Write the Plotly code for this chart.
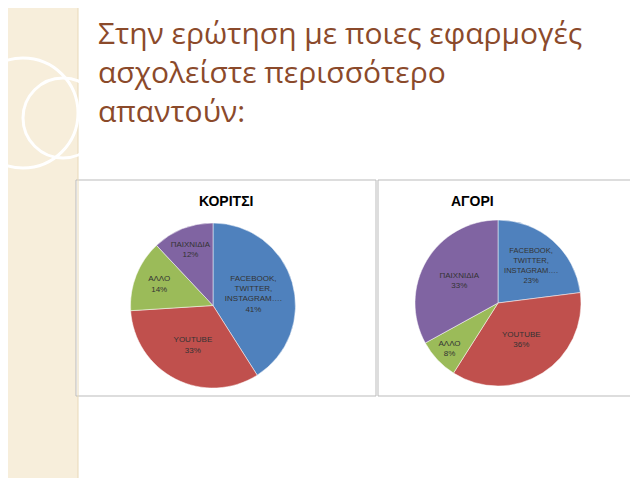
import plotly.graph_objects as go

categories = ["FACEBOOK, TWITTER, INSTAGRAM….", "YOUTUBE", "ΑΛΛΟ", "ΠΑΙΧΝΙΔΙΑ"]
label_text = ["FACEBOOK,<br>TWITTER,<br>INSTAGRAM….", "YOUTUBE", "ΑΛΛΟ", "ΠΑΙΧΝΙΔΙΑ"]
girls = [41, 33, 14, 12]
boys = [23, 36, 8, 33]
colors = ["#4F81BD", "#C0504D", "#9BBB59", "#8064A2"]

W, H = 638, 478
def px(x0, x1, y0, y1):
    return dict(x=[x0 / W, x1 / W], y=[1 - y1 / H, 1 - y0 / H])

fig = go.Figure()
for vals, dom in [(girls, px(115, 295, 215, 380)), (boys, px(395, 585, 212, 378))]:
    fig.add_trace(go.Pie(
        labels=categories, values=vals, text=label_text, sort=False,
        direction="clockwise", rotation=0, domain=dom,
        marker=dict(colors=colors, line=dict(color="white", width=0.5)),
        texttemplate="%{text}<br>%{value}%", textposition="inside",
        insidetextorientation="horizontal",
        textfont=dict(family="Liberation Sans Narrow, Liberation Sans", size=8, color="#333333"),
        showlegend=False, hoverinfo="label+value"))

shapes = [
    dict(type="rect", xref="paper", yref="paper", x0=0, x1=70 / W, y0=0, y1=1,
         fillcolor="#F7EEDB", line=dict(width=0), layer="below"),
    dict(type="line", xref="paper", yref="paper", x0=70 / W, x1=70 / W, y0=0, y1=1,
         line=dict(color="#E8D9B8", width=1)),
    dict(type="circle", xref="paper", yref="paper", x0=-40 / W, x1=70 / W, y0=1 - 160 / H, y1=1 - 50 / H,
         line=dict(color="#FFFFFF", width=3)),
    dict(type="circle", xref="paper", yref="paper", x0=15 / W, x1=95 / W, y0=1 - 150 / H, y1=1 - 70 / H,
         line=dict(color="#FFFFFF", width=3)),
    dict(type="rect", xref="paper", yref="paper", x0=68 / W, x1=368 / W, y0=1 - 388 / H, y1=1 - 172 / H,
         fillcolor="white", line=dict(color="#BBBBBB", width=1), layer="below"),
    dict(type="rect", xref="paper", yref="paper", x0=370 / W, x1=637 / W, y0=1 - 388 / H, y1=1 - 172 / H,
         fillcolor="white", line=dict(color="#BBBBBB", width=1), layer="below"),
]

annotations = [
    dict(text="Στην ερώτηση με ποιες εφαρμογές<br>ασχολείστε περισσότερο<br>απαντούν:",
         x=88 / W, y=1 - 2 / H, xref="paper", yref="paper", xanchor="left", yanchor="top",
         align="left", showarrow=False,
         font=dict(family="Open Sans", size=30, color="#8B4A2B")),
    dict(text="<b>ΚΟΡΙΤΣΙ</b>", x=218 / W, y=1 - 193 / H, xref="paper", yref="paper",
         showarrow=False, font=dict(family="Liberation Sans Narrow, Liberation Sans", size=14, color="black")),
    dict(text="<b>ΑΓΟΡΙ</b>", x=488 / W, y=1 - 193 / H, xref="paper", yref="paper",
         showarrow=False, font=dict(family="Liberation Sans Narrow, Liberation Sans", size=14, color="black")),
]

fig.update_layout(width=W, height=H, margin=dict(l=0, r=0, t=0, b=0),
                  paper_bgcolor="white", plot_bgcolor="white",
                  shapes=shapes, annotations=annotations)
fig.write_html("out.html")
